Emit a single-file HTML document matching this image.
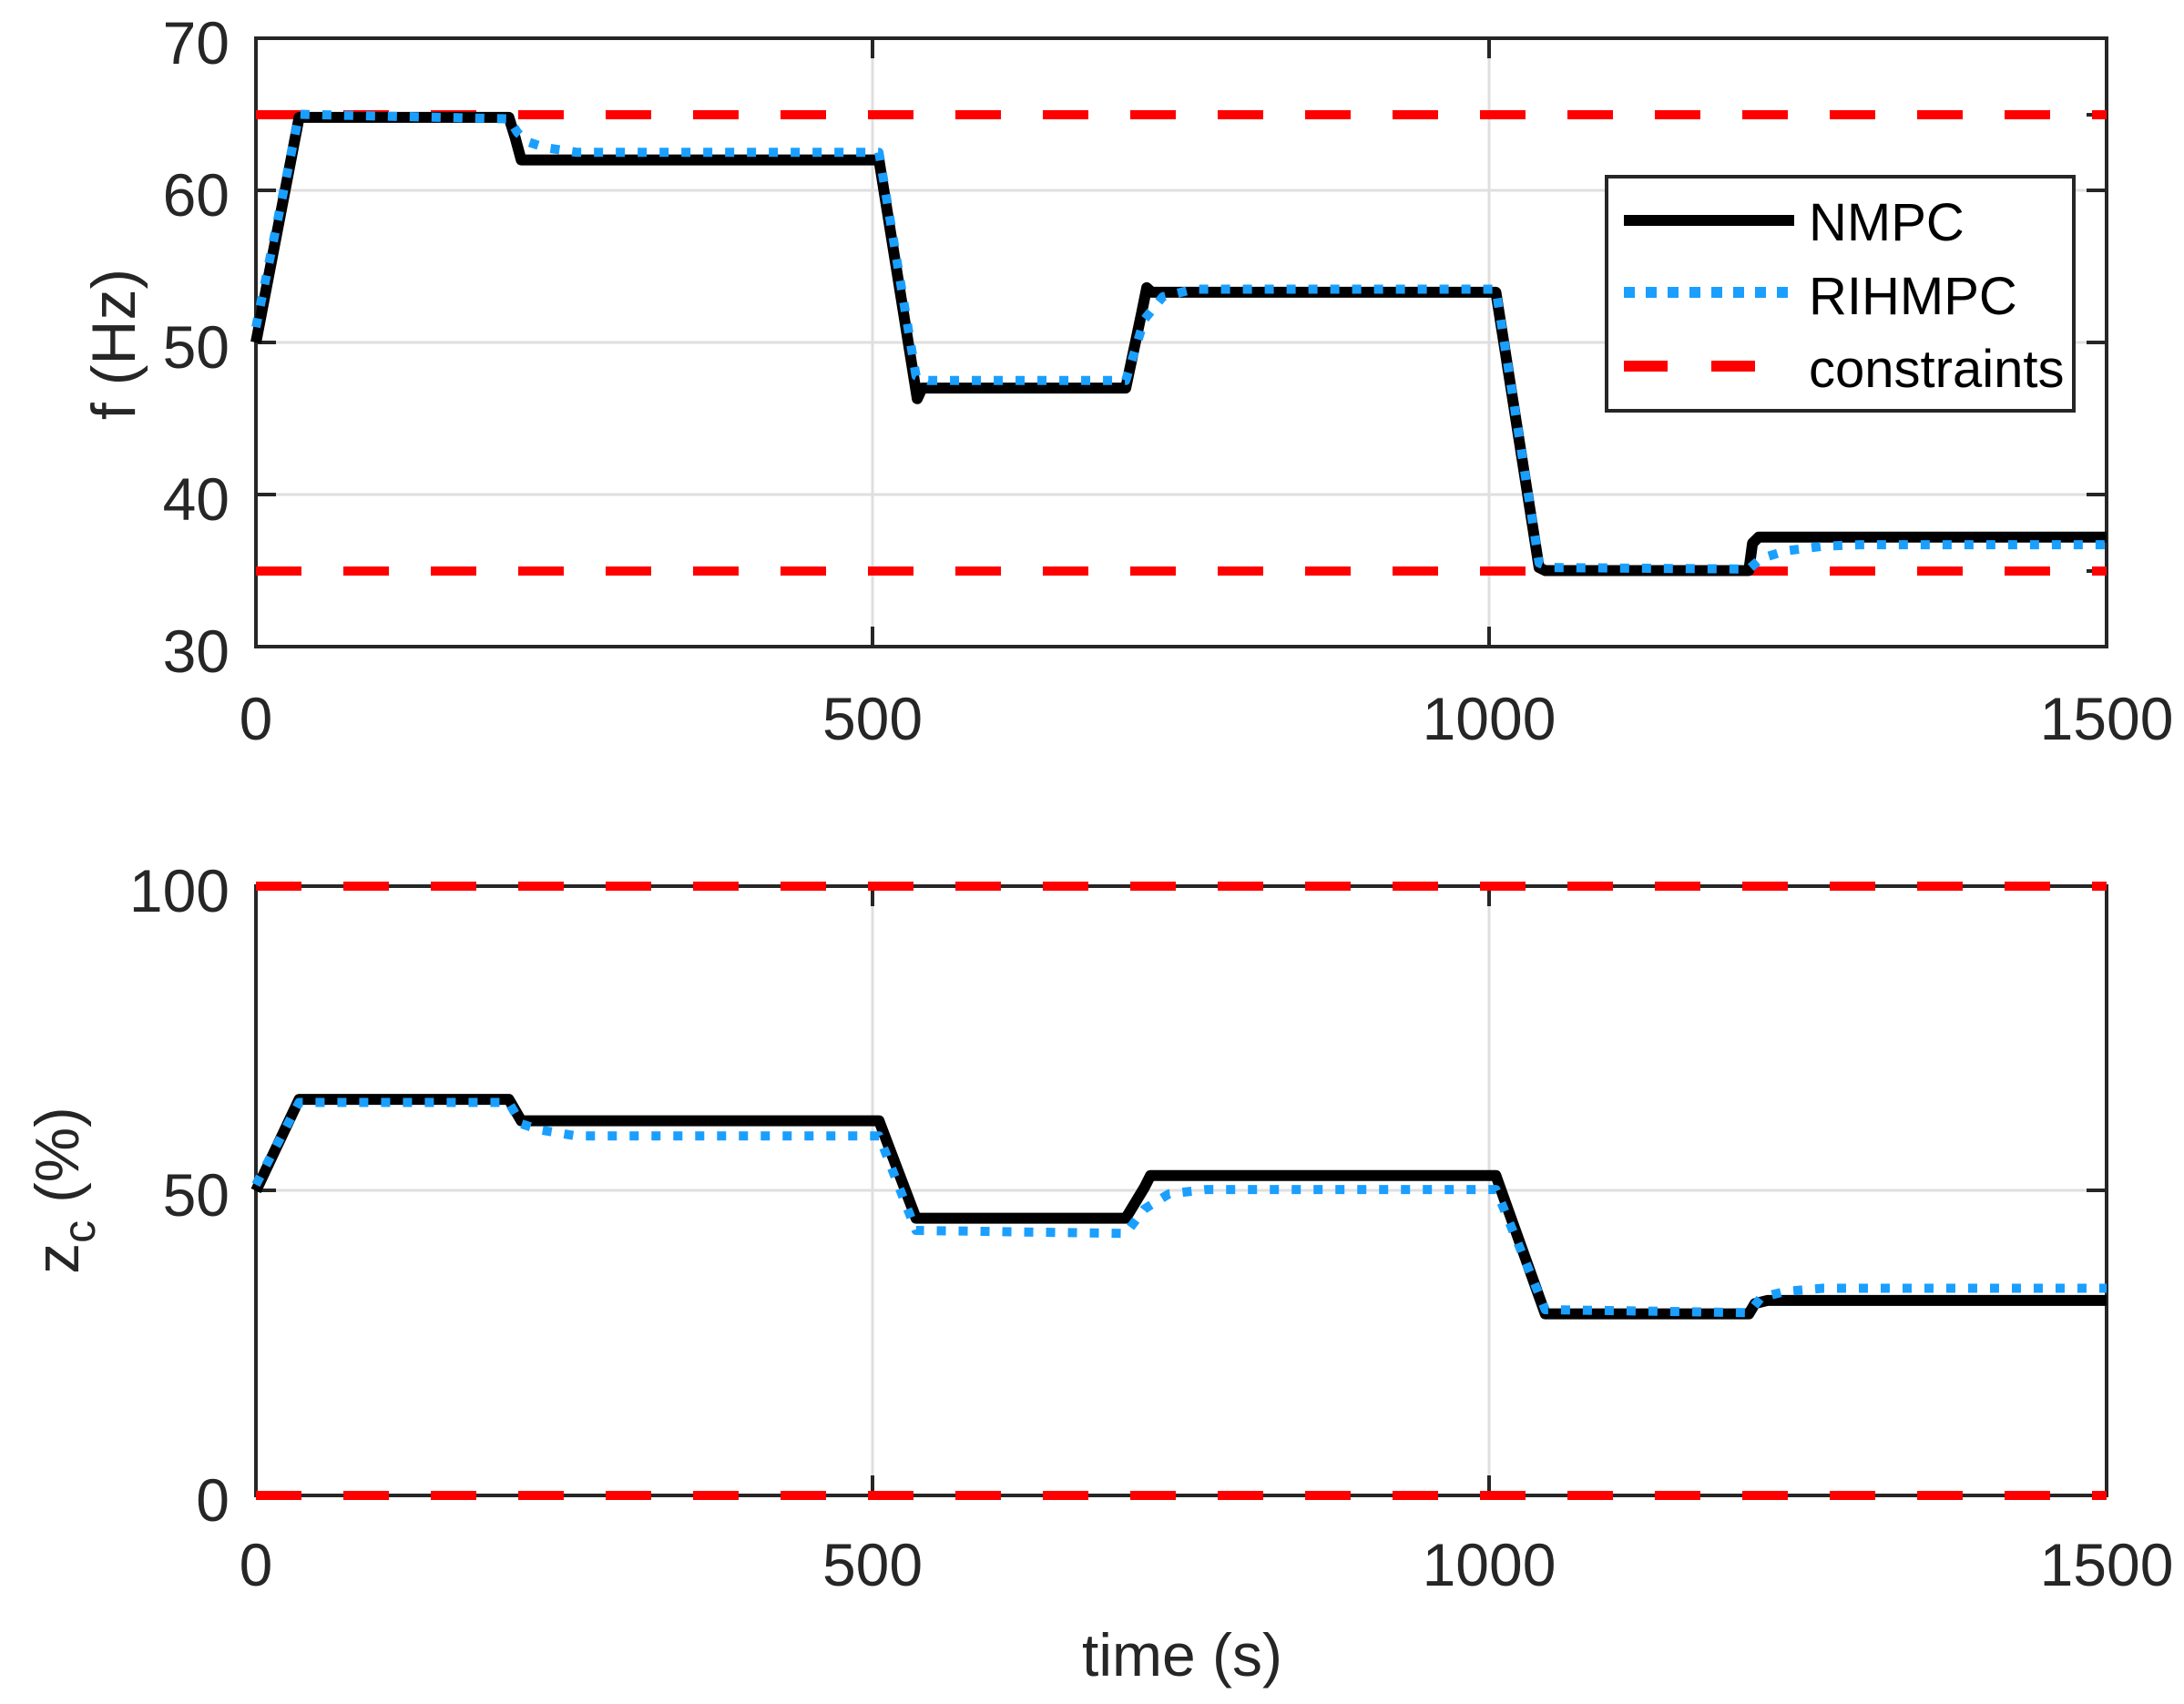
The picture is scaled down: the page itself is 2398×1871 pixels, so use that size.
<!DOCTYPE html>
<html><head><meta charset="utf-8"><style>
html,body{margin:0;padding:0;background:#fff;}
svg{display:block;}
text{font-family:"Liberation Sans",Arial,sans-serif;fill:#262626;}
</style></head><body>
<svg width="2398" height="1871" viewBox="0 0 2398 1871" xmlns="http://www.w3.org/2000/svg">
<rect width="2398" height="1871" fill="#fff"/>
<g stroke="#dfdfdf" stroke-width="3">
<line x1="958" y1="42" x2="958" y2="710"/><line x1="1635" y1="42" x2="1635" y2="710"/>
<line x1="281" y1="209" x2="2313" y2="209"/><line x1="281" y1="376" x2="2313" y2="376"/><line x1="281" y1="543" x2="2313" y2="543"/>
<line x1="958" y1="973" x2="958" y2="1642"/><line x1="1635" y1="973" x2="1635" y2="1642"/>
<line x1="281" y1="1307" x2="2313" y2="1307"/>
</g>
<g stroke="#262626" stroke-width="4" fill="none">
<rect x="281" y="42" width="2032" height="668"/>
<rect x="281" y="973" width="2032" height="669"/>
<path d="M958 710v-22M1635 710v-22M958 42v22M1635 42v22M281 209h22M281 376h22M281 543h22M2313 209h-22M2313 376h-22M2313 543h-22M2313 126h-22M2313 627h-22M281 126h22M281 627h22"/>
<path d="M958 1642v-22M1635 1642v-22M958 973v22M1635 973v22M281 1307h22M2313 1307h-22"/>
</g>
<g font-size="66" text-anchor="end">
<text x="252" y="70">70</text><text x="252" y="237">60</text><text x="252" y="404">50</text><text x="252" y="571">40</text><text x="252" y="738">30</text>
<text x="252" y="1001">100</text><text x="252" y="1335">50</text><text x="252" y="1670">0</text>
</g>
<g font-size="66" text-anchor="middle">
<text x="281" y="812">0</text><text x="958" y="812">500</text><text x="1635" y="812">1000</text><text x="2313" y="812">1500</text>
<text x="281" y="1741">0</text><text x="958" y="1741">500</text><text x="1635" y="1741">1000</text><text x="2313" y="1741">1500</text>
<text x="1298" y="1840">time (s)</text>
</g>
<text font-size="68" text-anchor="middle" transform="translate(148,378) rotate(-90)">f (Hz)</text>
<text font-size="68" text-anchor="middle" transform="translate(86,1307) rotate(-90)">z<tspan font-size="50" dy="18">c</tspan><tspan dy="-18"> (%)</tspan></text>
<g stroke="#ff0000" stroke-width="10" stroke-dasharray="50 46">
<line x1="281" y1="126" x2="2313" y2="126"/><line x1="281" y1="627" x2="2313" y2="627"/>
<line x1="281" y1="973" x2="2313" y2="973"/><line x1="281" y1="1642" x2="2313" y2="1642"/>
</g>
<g transform="translate(281,710) scale(1.3547,-16.7) translate(0,-30)" fill="none" stroke-linejoin="round">
<polyline vector-effect="non-scaling-stroke" stroke="#000" stroke-width="12" points="0,50 35,64.8 205,64.8 210,63.5 215,62 220,62 505,62 536,46.3 540,47 705,47 718,52 722,53.6 726,53.3 1005,53.3 1040,35.2 1045,35 1210,35 1213,36.8 1218,37.2 1500,37.2"/>
<polyline vector-effect="non-scaling-stroke" stroke="#1a9fff" stroke-width="10" stroke-dasharray="10 14" points="0,51 35,65 205,64.7 212,63.8 220,63.2 235,62.8 260,62.5 505,62.5 535,47.8 545,47.5 705,47.5 720,51.5 735,53 760,53.5 1005,53.5 1040,35.5 1050,35.2 1210,35.1 1220,35.8 1240,36.3 1270,36.6 1300,36.7 1500,36.7"/>
</g>
<g transform="translate(281,1642) scale(1.3547,-6.69)" fill="none" stroke-linejoin="round">
<polyline vector-effect="non-scaling-stroke" stroke="#000" stroke-width="12" points="0,50 35,65 205,65 215,61.5 505,61.5 535,45.5 705,45.5 720,50.5 725,52.5 1005,52.5 1045,29.8 1210,29.8 1215,31.5 1225,32 1500,32"/>
<polyline vector-effect="non-scaling-stroke" stroke="#1a9fff" stroke-width="10" stroke-dasharray="10 14" points="0,51 35,64.5 205,64.5 215,61 230,60 260,59 505,59 535,43.5 705,43 720,47 740,49.5 770,50.2 1005,50.2 1045,30.5 1210,30 1220,32.5 1240,33.5 1270,34 1500,34"/>
</g>
<rect x="1764" y="194" width="513" height="257" fill="#fff" stroke="#262626" stroke-width="4"/>
<line x1="1783" y1="242" x2="1970" y2="242" stroke="#000" stroke-width="12"/>
<line x1="1783" y1="321" x2="1965" y2="321" stroke="#1a9fff" stroke-width="12" stroke-dasharray="12 12"/>
<line x1="1783" y1="402" x2="1928" y2="402" stroke="#ff0000" stroke-width="12" stroke-dasharray="48 48"/>
<g font-size="58">
<text x="1986" y="264" style="fill:#000">NMPC</text>
<text x="1986" y="345" style="fill:#000">RIHMPC</text>
<text x="1986" y="425" style="fill:#000">constraints</text>
</g>
</svg>
</body></html>
